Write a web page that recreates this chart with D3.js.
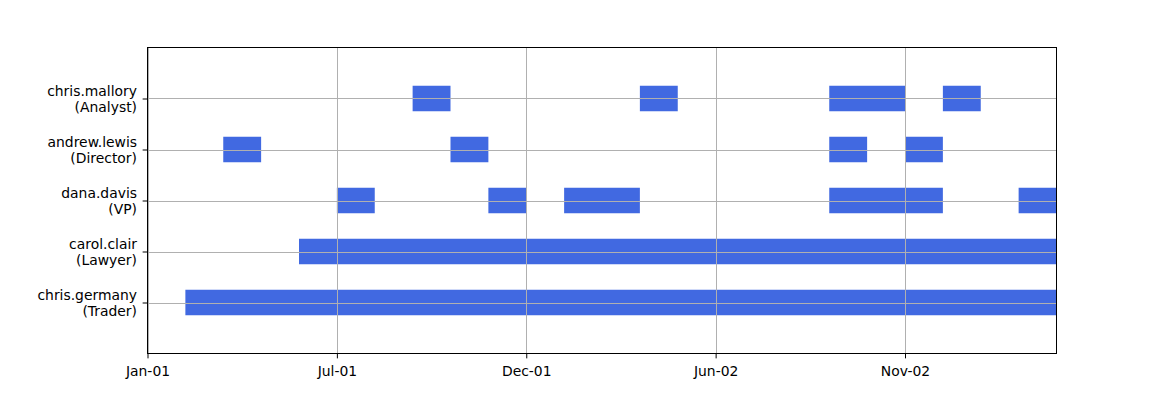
<!DOCTYPE html>
<html>
<head>
<meta charset="utf-8">
<script src="https://cdn.jsdelivr.net/npm/d3@7"></script>
<style>
  body { margin: 0; background: #fff; }
  text { font-family: "DejaVu Sans", sans-serif; font-size: 13.9px; fill: #000; }
</style>
</head>
<body>
<svg id="chart" width="1173" height="398"></svg>
<script>
// Rows from bottom to top
const people = ["chris.germany", "carol.clair", "dana.davis", "andrew.lewis", "chris.mallory"];
const roles = ["Trader", "Lawyer", "VP", "Director", "Analyst"];
// Month-index spans [start, width]
const spans = [
  [[1, 23]],
  [[4, 20]],
  [[5, 1], [9, 1], [11, 2], [18, 3], [23, 1]],
  [[2, 1], [8, 1], [18, 1], [20, 1]],
  [[7, 1], [13, 1], [18, 2], [21, 1]]
];
const xTicks = [0, 5, 10, 15, 20];
const xTickLabels = ["Jan-01", "Jul-01", "Dec-01", "Jun-02", "Nov-02"];
const xDomain = [0, 24];
const yDomain = [0, 6];

const svg = d3.select("#chart");
const L = 147.5, R = 1056.5, T = 47.5, B = 353.5;
const x = d3.scaleLinear().domain(xDomain).range([L, R]);
const y = d3.scaleLinear().domain(yDomain).range([B, T]);
const barH = 0.5;

// bars
const g = svg.append("g");
spans.forEach((row, i) => {
  g.selectAll(null).data(row).enter().append("rect")
    .attr("x", d => x(d[0]))
    .attr("width", d => x(d[0] + d[1]) - x(d[0]))
    .attr("y", y(i + 1 + barH / 2))
    .attr("height", y(i + 1 - barH / 2) - y(i + 1 + barH / 2))
    .attr("fill", "#4169e1");
});

// grid (on top of bars)
const grid = svg.append("g").attr("stroke", "#b0b0b0").attr("stroke-width", 1);
xTicks.forEach(t => {
  grid.append("line").attr("x1", Math.round(x(t)) + 0.5).attr("x2", Math.round(x(t)) + 0.5).attr("y1", T).attr("y2", B);
});
people.forEach((p, i) => {
  const yy = Math.round(y(i + 1)) + 0.5;
  grid.append("line").attr("x1", L).attr("x2", R).attr("y1", yy).attr("y2", yy);
});

// frame
svg.append("rect").attr("x", L).attr("y", T).attr("width", R - L).attr("height", B - T)
  .attr("fill", "none").attr("stroke", "#000").attr("stroke-width", 1);

// x axis ticks
const xAxis = d3.axisBottom(x).tickValues(xTicks).tickFormat((d, i) => xTickLabels[i])
  .tickSize(4.86).tickPadding(7.8);
const xa = svg.append("g").attr("transform", `translate(0,${B})`).call(xAxis);
xa.select(".domain").remove();
xa.selectAll(".tick line").attr("stroke", "#000");
xa.selectAll("text").attr("font-family", "DejaVu Sans").attr("font-size", "13.9px").attr("fill", "#000");

// y axis ticks
const yAxis = d3.axisLeft(y).tickValues(people.map((p, i) => i + 1)).tickFormat("").tickSize(4.86);
const ya = svg.append("g").attr("transform", `translate(${L},0)`).call(yAxis);
ya.select(".domain").remove();
ya.selectAll(".tick line").attr("stroke", "#000");

// y labels two lines
people.forEach((p, i) => {
  const t = svg.append("text").attr("text-anchor", "end")
    .attr("x", 137).attr("y", y(i + 1) - 3);
  t.append("tspan").attr("x", 137).text(p);
  t.append("tspan").attr("x", 137).attr("dy", 16).text("(" + roles[i] + ")");
});
</script>
</body>
</html>
